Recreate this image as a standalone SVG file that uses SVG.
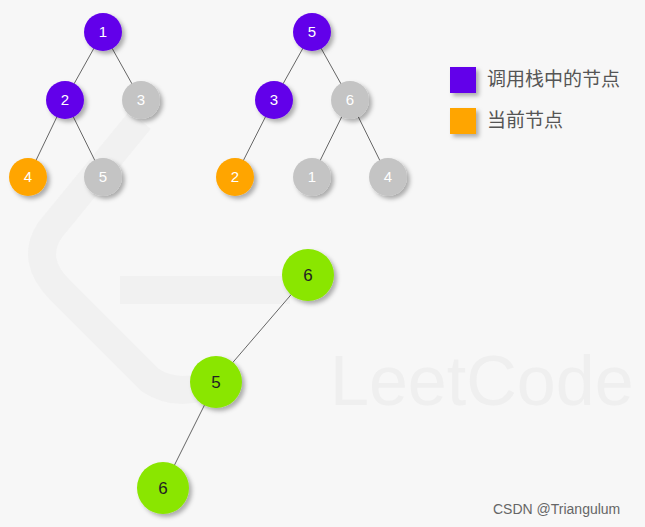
<svg xmlns="http://www.w3.org/2000/svg" width="645" height="527" viewBox="0 0 645 527">
<defs>
<filter id="sh" x="-50%" y="-50%" width="200%" height="200%"><feDropShadow dx="3" dy="3" stdDeviation="2" flood-color="#000" flood-opacity="0.3"/></filter>
<style>
text{font-family:"Liberation Sans",Arial,sans-serif}
.e{stroke:#666;stroke-width:1;fill:none}
.p{fill:#6200ea}.o{fill:#ffa500}.g{fill:#c4c4c4}.gr{fill:#8ae600}
.w{fill:#fff;font-size:15px;text-anchor:middle}
.k{fill:#222;font-size:17px;text-anchor:middle}
.l{fill:#555;font-size:19px;font-family:"Noto Sans CJK SC",sans-serif}
</style>
</defs>
<rect width="645" height="527" fill="#f7f7f7"/>
<g opacity="0.5" fill="none" stroke="#ececec" stroke-width="28">
<path d="M140 120 L50 230 Q30 260 60 290 L150 380 Q180 400 220 380"/>
<path d="M120 290 H290"/>
</g>
<text x="330" y="405" font-size="70" fill="#efefef">LeetCode</text>
<g id="connectors">
<line class="e" x1="103" y1="32" x2="65" y2="100"/><line class="e" x1="103" y1="32" x2="141" y2="100"/>
<line class="e" x1="65" y1="100" x2="28" y2="177"/><line class="e" x1="65" y1="100" x2="103" y2="177"/>
<line class="e" x1="312" y1="32" x2="274" y2="100"/><line class="e" x1="312" y1="32" x2="350" y2="100"/>
<line class="e" x1="274" y1="100" x2="235" y2="177"/><line class="e" x1="350" y1="100" x2="312" y2="177"/><line class="e" x1="350" y1="100" x2="388" y2="177"/>
<line class="e" x1="308" y1="275" x2="216" y2="382"/><line class="e" x1="216" y1="382" x2="163" y2="488"/>
</g>
<g id="a1"><circle class="p" cx="103" cy="32" r="19" filter="url(#sh)"/><text class="w" x="103" y="37">1</text></g>
<g id="a2"><circle class="p" cx="65" cy="100" r="19" filter="url(#sh)"/><text class="w" x="65" y="105">2</text></g>
<g id="a3"><circle class="g" cx="141" cy="100" r="19" filter="url(#sh)"/><text class="w" x="141" y="105">3</text></g>
<g id="a4"><circle class="o" cx="28" cy="177" r="19" filter="url(#sh)"/><text class="w" x="28" y="182">4</text></g>
<g id="a5"><circle class="g" cx="103" cy="177" r="19" filter="url(#sh)"/><text class="w" x="103" y="182">5</text></g>
<g id="b5"><circle class="p" cx="312" cy="32" r="19" filter="url(#sh)"/><text class="w" x="312" y="37">5</text></g>
<g id="b3"><circle class="p" cx="274" cy="100" r="19" filter="url(#sh)"/><text class="w" x="274" y="105">3</text></g>
<g id="b6"><circle class="g" cx="350" cy="100" r="19" filter="url(#sh)"/><text class="w" x="350" y="105">6</text></g>
<g id="b2"><circle class="o" cx="235" cy="177" r="19" filter="url(#sh)"/><text class="w" x="235" y="182">2</text></g>
<g id="b1"><circle class="g" cx="312" cy="177" r="19" filter="url(#sh)"/><text class="w" x="312" y="182">1</text></g>
<g id="b4"><circle class="g" cx="388" cy="177" r="19" filter="url(#sh)"/><text class="w" x="388" y="182">4</text></g>
<g id="c6"><circle class="gr" cx="308" cy="275" r="26" filter="url(#sh)"/><text class="k" x="308" y="281">6</text></g>
<g id="c5"><circle class="gr" cx="216" cy="382" r="26" filter="url(#sh)"/><text class="k" x="216" y="388">5</text></g>
<g id="c6b"><circle class="gr" cx="163" cy="488" r="26" filter="url(#sh)"/><text class="k" x="163" y="494">6</text></g>
<g id="legend">
<rect class="p" x="450" y="67" width="26" height="26" filter="url(#sh)"/><text class="l" x="487" y="86">调用栈中的节点</text>
<rect class="o" x="450" y="108" width="26" height="26" filter="url(#sh)"/><text class="l" x="487" y="127">当前节点</text>
</g>
<text x="493" y="514" font-size="14" fill="#666">CSDN @Triangulum</text>
</svg>
